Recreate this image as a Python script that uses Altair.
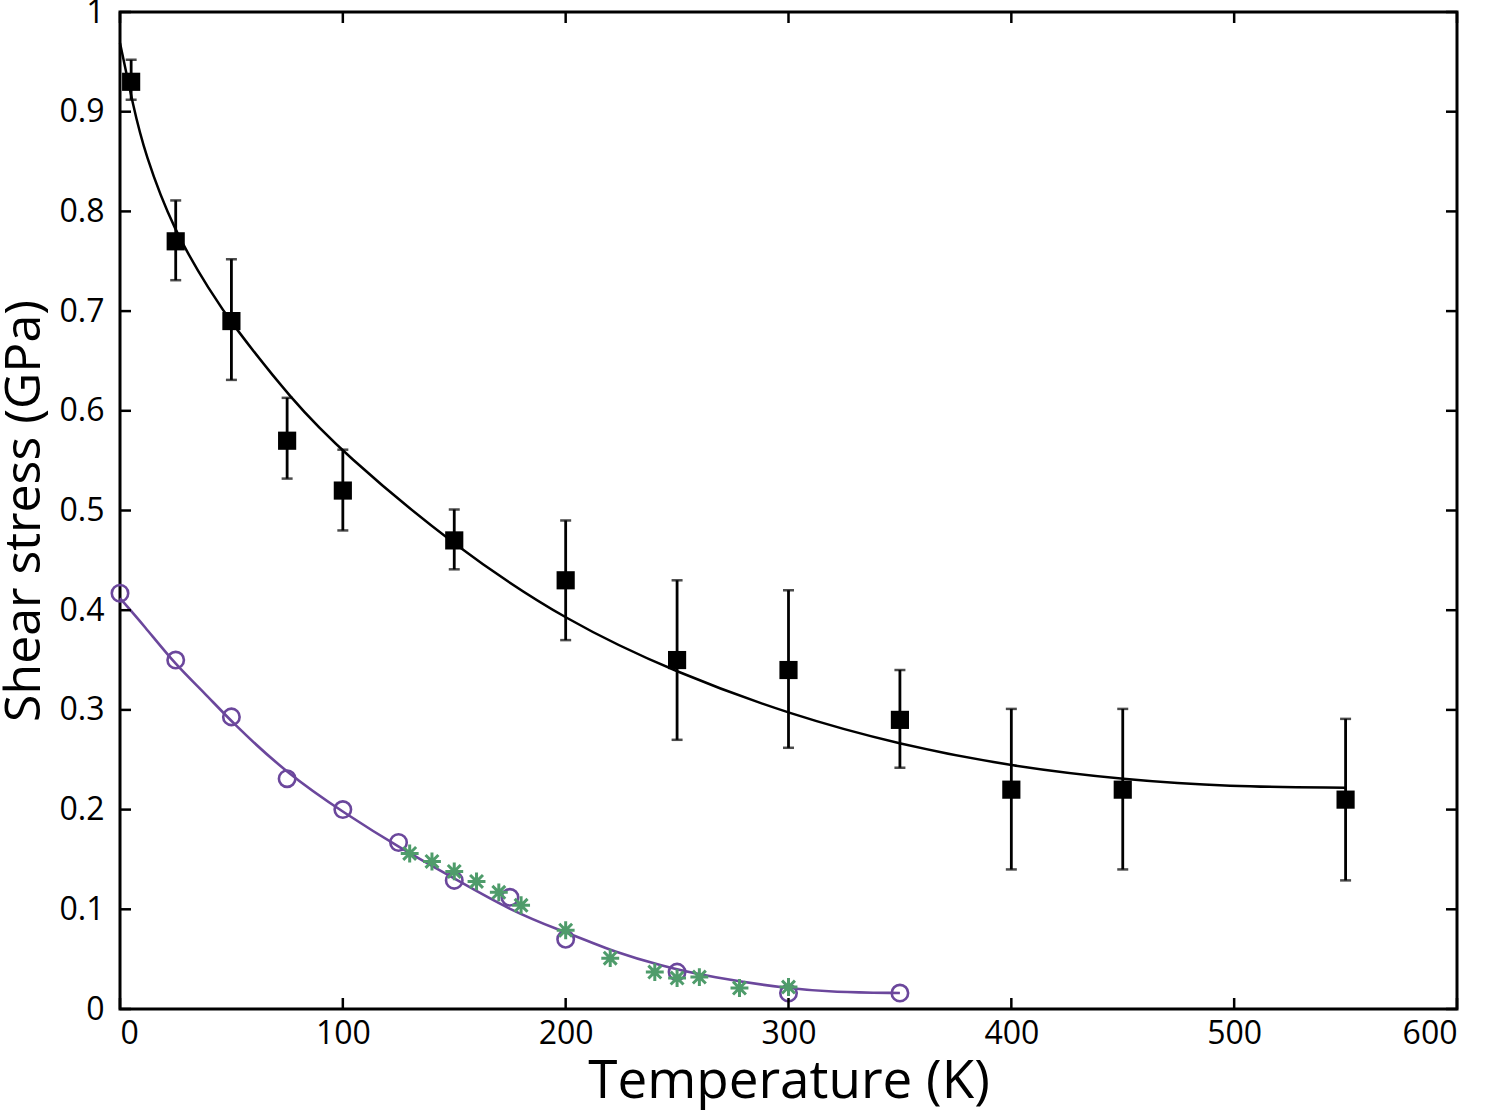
import altair as alt
import pandas as pd

# ---- data ----
sq_T = [5, 25, 50, 75, 100, 150, 200, 250, 300, 350, 400, 450, 550]
sq_tau = [0.93, 0.77, 0.69, 0.57, 0.52, 0.47, 0.43, 0.35, 0.34, 0.29, 0.22, 0.22, 0.21]
sq_lo = [0.912, 0.731, 0.631, 0.532, 0.480, 0.441, 0.370, 0.270, 0.262, 0.242, 0.140, 0.140, 0.129]
sq_hi = [0.952, 0.811, 0.752, 0.613, 0.561, 0.501, 0.490, 0.430, 0.420, 0.340, 0.301, 0.301, 0.291]

fit1_T = [0, 6, 11, 24, 41, 50, 77, 100, 150, 201, 250, 301, 350, 401, 451, 497, 550]
fit1_tau = [0.969, 0.905, 0.859, 0.781, 0.718, 0.688, 0.611, 0.558, 0.464, 0.388,
            0.337, 0.295, 0.265, 0.243, 0.230, 0.223, 0.222]

circ_T = [0, 25, 50, 75, 100, 125, 150, 175, 200, 250, 300, 350]
circ_tau = [0.417, 0.350, 0.293, 0.231, 0.200, 0.167, 0.129, 0.112, 0.070, 0.037, 0.016, 0.016]

fit2_T = [0, 11, 25, 38, 50, 75, 101, 126, 150, 175, 199, 211, 220, 243, 265, 301, 320, 350]
fit2_tau = [0.412, 0.384, 0.345, 0.317, 0.288, 0.236, 0.196, 0.161, 0.131, 0.099, 0.0775,
            0.0675, 0.059, 0.043, 0.032, 0.020, 0.017, 0.016]

ast_T = [130, 140, 150, 160, 170, 180, 200, 220, 240, 250, 260, 278, 300]
ast_tau = [0.156, 0.148, 0.138, 0.128, 0.117, 0.104, 0.079, 0.051, 0.037, 0.031, 0.032, 0.021, 0.022]

x_ticks = [0, 100, 200, 300, 400, 500, 600]
y_ticks = [0, 0.1, 0.2, 0.3, 0.4, 0.5, 0.6, 0.7, 0.8, 0.9, 1.0]

# ---- tables ----
sq = pd.DataFrame({"T": sq_T, "tau": sq_tau, "lo": sq_lo, "hi": sq_hi})
fit1 = pd.DataFrame({"T": fit1_T, "tau": fit1_tau})
circ = pd.DataFrame({"T": circ_T, "tau": circ_tau})
fit2 = pd.DataFrame({"T": fit2_T, "tau": fit2_tau})
ast = pd.DataFrame({"T": ast_T, "tau": ast_tau})
xt = pd.DataFrame({"v": x_ticks})
yt = pd.DataFrame({"v": y_ticks})

W, H = 1337, 997
TL = 11  # inward tick length
PURPLE = "#6b479c"
GREEN = "#4f9c6b"
FONT = "Open Sans"

xs = alt.Scale(domain=[0, 600], nice=False, zero=False)
ys = alt.Scale(domain=[0, 1], nice=False, zero=False)

X = alt.X("T:Q", scale=xs, axis=alt.Axis(
    title="Temperature (K)", values=x_ticks, format="d", ticks=False, domain=False, grid=False,
    labelFontSize=32, labelPadding=9, labelFont=FONT, labelColor="black",
    titleFontSize=53, titleFont=FONT, titleFontWeight="normal", titleColor="black",
    titleX=W / 2, titleY=88, titleBaseline="alphabetic", titleAnchor="middle"))
Y = alt.Y("tau:Q", scale=ys, axis=alt.Axis(
    title="Shear stress (GPa)", values=y_ticks, ticks=False, domain=False, grid=False,
    labelExpr="datum.value == 0 ? '0' : datum.value == 1 ? '1' : format(datum.value, '.1f')",
    labelFontSize=32, labelPadding=16, labelFont=FONT, labelColor="black",
    titleFontSize=50, titleFont=FONT, titleFontWeight="normal", titleColor="black",
    titleAngle=-90, titleX=-96, titleY=H / 2, titleBaseline="middle", titleAlign="center"))

# inward ticks on all four sides
tick_b = alt.Chart(xt).mark_rule(color="black", strokeWidth=2.5).encode(
    x=alt.X("v:Q", scale=xs), y=alt.value(H), y2=alt.value(H - TL))
tick_t = alt.Chart(xt).mark_rule(color="black", strokeWidth=2.5).encode(
    x=alt.X("v:Q", scale=xs), y=alt.value(0), y2=alt.value(TL))
tick_l = alt.Chart(yt).mark_rule(color="black", strokeWidth=2.5).encode(
    y=alt.Y("v:Q", scale=ys), x=alt.value(0), x2=alt.value(TL))
tick_r = alt.Chart(yt).mark_rule(color="black", strokeWidth=2.5).encode(
    y=alt.Y("v:Q", scale=ys), x=alt.value(W), x2=alt.value(W - TL))

line1 = alt.Chart(fit1).mark_line(color="black", strokeWidth=2.5, interpolate="basis").encode(
    x=X, y=Y)
err = alt.Chart(sq).mark_rule(color="black", strokeWidth=2.8).encode(
    x=alt.X("T:Q", scale=xs), y=alt.Y("lo:Q", scale=ys), y2="hi:Q")
cap_lo = alt.Chart(sq).mark_tick(color="black", orient="horizontal", size=11, thickness=2.5).encode(
    x=alt.X("T:Q", scale=xs), y=alt.Y("lo:Q", scale=ys))
cap_hi = alt.Chart(sq).mark_tick(color="black", orient="horizontal", size=11, thickness=2.5).encode(
    x=alt.X("T:Q", scale=xs), y=alt.Y("hi:Q", scale=ys))
squares = alt.Chart(sq).mark_square(color="black", filled=True, size=330, opacity=1).encode(
    x=alt.X("T:Q", scale=xs), y=alt.Y("tau:Q", scale=ys))

line2 = alt.Chart(fit2).mark_line(color=PURPLE, strokeWidth=2.6, interpolate="basis").encode(
    x=alt.X("T:Q", scale=xs), y=alt.Y("tau:Q", scale=ys))
circles = alt.Chart(circ).mark_point(shape="circle", filled=False, color=PURPLE, size=270,
                                     strokeWidth=2.6, opacity=1).encode(
    x=alt.X("T:Q", scale=xs), y=alt.Y("tau:Q", scale=ys))
stars = alt.Chart(ast).mark_point(
    shape="M-1,0L1,0M0,-1L0,1M-0.72,-0.72L0.72,0.72M-0.72,0.72L0.72,-0.72",
    filled=False, color=GREEN, size=320, strokeWidth=3, opacity=1).encode(
    x=alt.X("T:Q", scale=xs), y=alt.Y("tau:Q", scale=ys))

chart = alt.layer(
    line1, err, cap_lo, cap_hi, squares, line2, circles, stars,
    tick_b, tick_t, tick_l, tick_r
).properties(
    width=W, height=H,
    autosize=alt.AutoSizeParams(type="none"),
    padding={"left": 120, "top": 12, "right": 38, "bottom": 101},
    background="white",
).configure_view(
    stroke="black", strokeWidth=3, fill="white"
)

chart.save("out.html", embed_options={"renderer": "svg", "actions": False})
